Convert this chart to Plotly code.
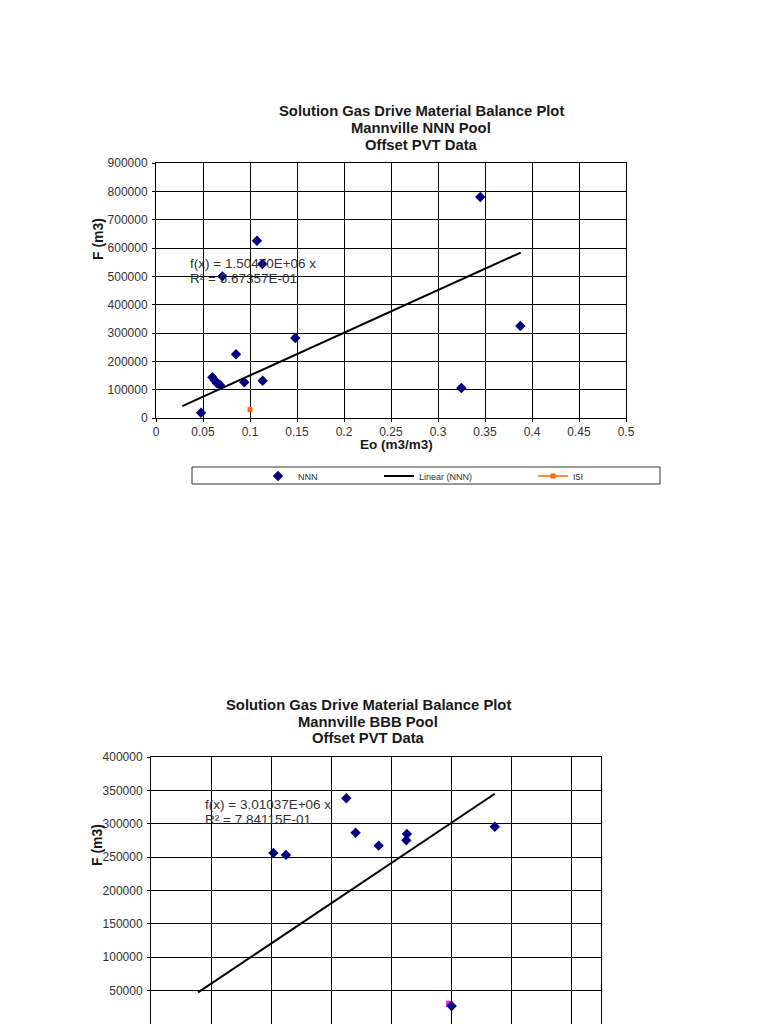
import plotly.graph_objects as go

# --- top chart: Mannville NNN Pool ---
nnn_eo = [0.0479, 0.0599, 0.0628, 0.0649, 0.0681, 0.0706, 0.0851, 0.0939,
          0.1074, 0.1131, 0.1135, 0.1482, 0.3248, 0.3450, 0.3876]
nnn_f = [18700, 143600, 131700, 122500, 116500, 500000, 224800, 126000,
         625700, 543500, 131700, 282300, 105900, 780000, 324700]
i5i_eo = [0.1]
i5i_f = [29300]
nnn_slope = 1.50470e6
nnn_trend_eo = [0.028, 0.388]
nnn_eq = ["f(x) = 1.50470E+06 x", "R² = 5.67357E-01"]

# --- bottom chart: Mannville BBB Pool ---
bbb_eo = [0.0408, 0.0450, 0.0651, 0.0682, 0.0759, 0.0853, 0.0851, 0.1146, 0.1002]
bbb_f = [256300, 253300, 338300, 286600, 267200, 284600, 275100, 295500, 26900]
bbb2_eo = [0.0994]
bbb2_f = [30300]
bbb_slope = 3.01037e6
bbb_trend_eo = [0.0157, 0.1146]
bbb_eq = ["f(x) = 3.01037E+06 x", "R² = 7.84115E-01"]

title_lines_top = ["Solution Gas Drive Material Balance Plot", "Mannville NNN Pool", "Offset PVT Data"]
title_lines_bot = ["Solution Gas Drive Material Balance Plot", "Mannville BBB Pool", "Offset PVT Data"]

# page is laid out on a 768x1024 grid, positions given as fractions of it
W, H = 768, 1024
FONT = "Liberation Sans, Arial, sans-serif"


def px_x(p):
    return p / W


def px_y(p):
    return (H - p) / H


def label(text, x, y, size, color, xanchor="center", angle=0):
    fig.add_annotation(text=text, xref="paper", yref="paper", x=px_x(x), y=px_y(y),
                       xanchor=xanchor, yanchor="middle", showarrow=False,
                       textangle=angle, font=dict(family=FONT, size=size, color=color))


fig = go.Figure()

fig.add_trace(go.Scatter(x=nnn_eo, y=nnn_f, mode="markers", name="NNN",
                         marker=dict(symbol="diamond", size=8, color="#000080"),
                         xaxis="x", yaxis="y", legend="legend"))
fig.add_trace(go.Scatter(x=nnn_trend_eo, y=[nnn_slope * v for v in nnn_trend_eo],
                         mode="lines", name="Linear (NNN)",
                         line=dict(color="black", width=2),
                         xaxis="x", yaxis="y", legend="legend2"))
fig.add_trace(go.Scatter(x=i5i_eo, y=i5i_f, mode="lines+markers", name="I5I",
                         marker=dict(symbol="square", size=5, color="#ff6600"),
                         line=dict(color="#ff6600", width=1.5),
                         xaxis="x", yaxis="y", legend="legend3"))

fig.add_trace(go.Scatter(x=bbb2_eo, y=bbb2_f, mode="markers", showlegend=False,
                         marker=dict(symbol="square", size=6, color="#ff00ff"),
                         xaxis="x2", yaxis="y2"))
fig.add_trace(go.Scatter(x=bbb_eo, y=bbb_f, mode="markers", showlegend=False,
                         marker=dict(symbol="diamond", size=8, color="#000080"),
                         xaxis="x2", yaxis="y2"))
fig.add_trace(go.Scatter(x=bbb_trend_eo, y=[bbb_slope * v for v in bbb_trend_eo],
                         mode="lines", showlegend=False,
                         line=dict(color="black", width=2),
                         xaxis="x2", yaxis="y2"))

axis_style = dict(showline=True, mirror=True, linecolor="black", linewidth=1,
                  showgrid=True, gridcolor="black", gridwidth=1, zeroline=False,
                  ticks="outside", ticklen=3, tickcolor="black", automargin=False,
                  tickfont=dict(family=FONT, size=12, color="#333333"))
legend_style = dict(xanchor="left", yanchor="middle", bgcolor="rgba(0,0,0,0)",
                    font=dict(family=FONT, size=9, color="#333333"))

fig.update_layout(
    template="none",
    autosize=True,
    margin=dict(l=0, r=0, t=0, b=0, autoexpand=False),
    paper_bgcolor="white", plot_bgcolor="white",
    font=dict(family=FONT, color="#333333"),
    xaxis=dict(domain=[px_x(156), px_x(626)], range=[0, 0.5], dtick=0.05,
               anchor="y", **axis_style),
    yaxis=dict(domain=[px_y(418), px_y(163)], range=[0, 900000], dtick=100000,
               tickformat="d", anchor="x", ticklabelstandoff=2, **axis_style),
    xaxis2=dict(domain=[px_x(151), px_x(601)], range=[0, 0.15], dtick=0.02,
                anchor="y2", **axis_style),
    yaxis2=dict(domain=[0, px_y(757)], range=[0, 400000], dtick=50000,
                tickformat="d", anchor="x2", ticklabelstandoff=2, **axis_style),
    legend=dict(x=px_x(258), y=px_y(476), **legend_style),
    legend2=dict(x=px_x(379), y=px_y(476), **legend_style),
    legend3=dict(x=px_x(533), y=px_y(476), **legend_style),
)

# legend frame
fig.add_shape(type="rect", xref="paper", yref="paper",
              x0=px_x(192), x1=px_x(660), y0=px_y(484), y1=px_y(467),
              line=dict(color="#333333", width=1))

# titles
for i, line in enumerate(title_lines_top):
    label("<b>%s</b>" % line, 421, 111 + 17 * i, 14.8, "#1a1a1a")
for i, line in enumerate(title_lines_bot):
    label("<b>%s</b>" % line, 368, 705 + 16.5 * i, 14.8, "#1a1a1a")

# axis titles
label("<b>Eo (m3/m3)</b>", 396, 444, 13.5, "#1a1a1a")
label("<b>F (m3)</b>", 98, 239, 14, "#1a1a1a", angle=-90)
label("<b>F (m3)</b>", 97, 845, 14, "#1a1a1a", angle=-90)

# trend line equations
for i, line in enumerate(nnn_eq):
    label(line, 188, 263 + 15 * i, 13.5, "#333333", xanchor="left")
for i, line in enumerate(bbb_eq):
    label(line, 203, 804 + 15.5 * i, 13.5, "#333333", xanchor="left")

# fill the window exactly, no body margin / scrollbars
fig.write_html("out.html", config={"displayModeBar": False},
               default_width="100vw", default_height="100vh",
               post_script="document.body.style.margin='0';"
                           "document.documentElement.style.overflow='hidden';")
